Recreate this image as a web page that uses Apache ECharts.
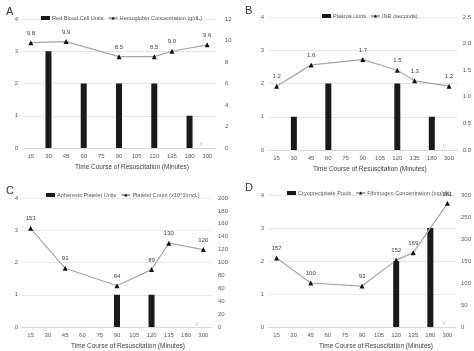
<!DOCTYPE html>
<html>
<head>
<meta charset="utf-8">
<script src="https://cdn.jsdelivr.net/npm/echarts@6/dist/echarts.min.js"></script>
<style>
  html, body { margin: 0; padding: 0; background: #fff; }
  #chart { width: 474px; height: 351px; }
</style>
</head>
<body>
<div id="chart"></div>
<script>
// time points (minutes)
const categories = ['15', '30', '45', '60', '75', '90', '105', '120', '135', '180', '300'];

// A
const rbcUnits = [0, 3, 0, 2, 0, 2, 0, 2, 0, 1, 0];
const hemoglobin = [9.8, null, 9.9, null, null, 8.5, null, 8.5, 9.0, null, 9.6];
// B
const plasmaUnits = [0, 1, 0, 2, 0, 0, 0, 2, 0, 1, 0];
const inr = [1.2, null, 1.6, null, null, 1.7, null, 1.5, 1.3, null, 1.2];
// C
const plateletUnits = [0, 0, 0, 0, 0, 1, 0, 1, 0, 0, 0];
const plateletCount = [153, null, 91, null, null, 64, null, 89, 130, null, 120];
// D
const cryoPools = [0, 0, 0, 0, 0, 0, 0, 2, 0, 3, 0];
const fibrinogen = [157, null, 100, null, null, 93, null, 152, 169, null, 281];

const fontFamily = 'Liberation Sans, Arial, sans-serif';
const textColor = '#595959';
const gridColor = '#e6e6e6';
const xTitle = 'Time Course of Resuscitation (Minutes)';

const panels = [
    {
        letter: 'A', bars: rbcUnits, line: hemoglobin,
        barName: 'Red Blood Cell Units', lineName: 'Hemoglobin Concentration (g/dL)',
        rightMax: 12, rightStep: 2, axisDecimals: 0, labelDecimals: 1,
        grid: { left: 22, top: 19, width: 194, height: 129 },
        legend: { left: 36, top: 10 }, rightMargin: 9, titlePad: 26,
        letterPos: { left: 1, top: 1 }
    },
    {
        letter: 'B', bars: plasmaUnits, line: inr,
        barName: 'Plasma Units', lineName: 'INR (seconds)',
        rightMax: 2.5, rightStep: 0.5, axisDecimals: 1, labelDecimals: 1,
        grid: { left: 268, top: 17, width: 191, height: 133 },
        legend: { left: 317, top: 8 }, rightMargin: 5, titlePad: 14,
        letterPos: { left: 240, top: 0 }
    },
    {
        letter: 'C', bars: plateletUnits, line: plateletCount,
        barName: 'Apheresis Platelet Units', lineName: 'Platelet Count (x10^3/mcL)',
        rightMax: 200, rightStep: 20, axisDecimals: 0, labelDecimals: 0,
        grid: { left: 22, top: 198, width: 190, height: 130 },
        legend: { left: 41, top: 187 }, rightMargin: 6, titlePad: 22,
        letterPos: { left: 1, top: 180 }
    },
    {
        letter: 'D', bars: cryoPools, line: fibrinogen,
        barName: 'Cryoprecipitate Pools', lineName: 'Fibrinogen Concentration (mg/dL)',
        rightMax: 300, rightStep: 50, axisDecimals: 0, labelDecimals: 0,
        grid: { left: 268, top: 195, width: 191, height: 132 },
        legend: { left: 282, top: 185 }, rightMargin: 5, titlePad: 28,
        letterPos: { left: 240, top: 177 }
    }
];

const option = {
    animation: false,
    textStyle: { fontFamily: fontFamily },
    title: [],
    legend: [],
    grid: [],
    xAxis: [],
    yAxis: [],
    series: [],
    graphic: []
};

panels.forEach((p, i) => {
    option.title.push({
        text: p.letter,
        left: p.letterPos.left,
        top: p.letterPos.top,
        textStyle: { fontSize: 11, fontWeight: 'normal', color: '#333', fontFamily: fontFamily }
    });

    option.grid.push(p.grid);

    option.legend.push({
        left: p.legend.left,
        top: p.legend.top,
        itemGap: 4,
        itemWidth: 9,
        itemHeight: 4,
        textStyle: { fontSize: 5.6, color: textColor, padding: [0, 0, 0, -3] },
        data: [
            { name: p.barName, icon: 'rect' },
            { name: p.lineName }
        ]
    });

    option.xAxis.push({
        type: 'category',
        gridIndex: i,
        data: categories,
        axisTick: { show: false },
        axisLine: { show: true, lineStyle: { color: '#d9d9d9' } },
        axisLabel: { fontSize: 6, color: textColor, margin: 5, interval: 0 },
        name: xTitle,
        nameLocation: 'middle',
        nameGap: 16,
        nameTextStyle: { fontSize: 6.5, color: '#404040', padding: [0, 0, 0, p.titlePad] }
    });

    // left axis: units
    option.yAxis.push({
        type: 'value',
        gridIndex: i,
        min: 0,
        max: 4,
        interval: 1,
        axisLine: { show: false },
        axisTick: { show: false },
        axisLabel: { fontSize: 6, color: textColor, margin: 4 },
        splitLine: { show: true, lineStyle: { color: gridColor } }
    });

    // right axis: lab value
    option.yAxis.push({
        type: 'value',
        gridIndex: i,
        position: 'right',
        min: 0,
        max: p.rightMax,
        interval: p.rightStep,
        axisLine: { show: false },
        axisTick: { show: false },
        splitLine: { show: false },
        axisLabel: {
            fontSize: 6,
            color: textColor,
            margin: p.rightMargin,
            formatter: v => v.toFixed(p.axisDecimals)
        }
    });

    option.series.push({
        type: 'bar',
        name: p.barName,
        xAxisIndex: i,
        yAxisIndex: i * 2,
        data: p.bars,
        barWidth: 6,
        itemStyle: { color: '#1a1a1a' }
    });

    option.series.push({
        type: 'line',
        name: p.lineName,
        xAxisIndex: i,
        yAxisIndex: i * 2 + 1,
        data: p.line,
        connectNulls: true,
        symbol: 'triangle',
        symbolSize: 5,
        itemStyle: { color: '#111' },
        lineStyle: { color: '#a6a6a6', width: 1.2 },
        label: {
            show: true,
            position: 'top',
            distance: 4,
            fontSize: 6,
            color: '#404040',
            formatter: d => d.value.toFixed(p.labelDecimals)
        },
        z: 3
    });

    // little axis-break mark between 180 and 300
    option.graphic.push({
        type: 'text',
        left: p.grid.left + p.grid.width * 0.915,
        top: p.grid.top + p.grid.height - 6,
        style: { text: '//', fontSize: 5, fill: '#aaa', fontFamily: fontFamily }
    });
});

const chart = echarts.init(document.getElementById('chart'));
chart.setOption(option);
</script>
</body>
</html>
